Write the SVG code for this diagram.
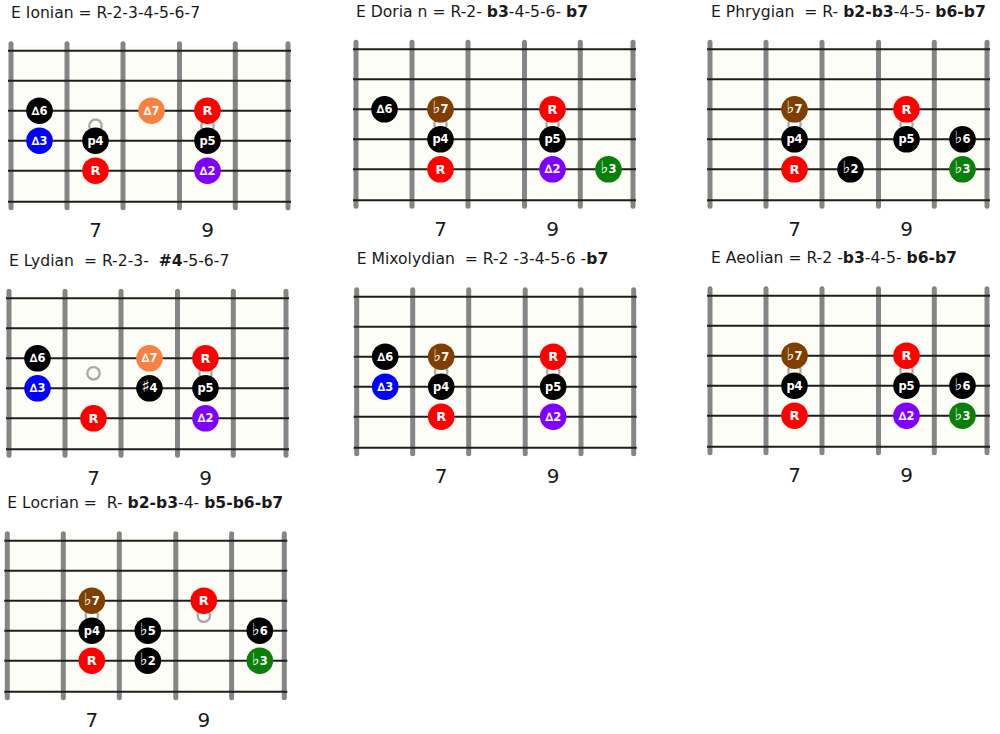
<svg xmlns="http://www.w3.org/2000/svg" xmlns:xlink="http://www.w3.org/1999/xlink" width="1000" height="734" viewBox="0 0 1000 734">
<style>
text{font-family:"DejaVu Sans","Verdana",sans-serif}
.title{font-size:15.6px;fill:#1a1a1a;white-space:pre}
.title tspan.b{font-weight:bold}
.fn{font-size:20px;fill:#1a1a1a;text-anchor:middle}
.fret{stroke:#858585;stroke-width:5;stroke-linecap:round}
.str{stroke:#1e1e1e;stroke-width:2}
.bg{fill:#fdfdf7}
.ring{fill:none;stroke:#aaaaaa;stroke-width:2.4}
.k{fill:#000}
.red{fill:#ff0000}
.blue{fill:#0000ff}
.org{fill:#f98040}
.pur{fill:#8000ff}
.brn{fill:#7f3f00}
.grn{fill:#0a800a}
.l{font-size:11.5px;font-weight:bold;fill:#fff;text-anchor:middle}
.l tspan.s{font-size:17px;font-weight:normal}
.lr{font-size:13px;font-weight:bold;fill:#fff;text-anchor:middle}
</style>
<defs>
<g id="board">
<rect class="bg" x="0" y="-5" width="277" height="160"/>
<line class="fret" x1="0" y1="-7" x2="0" y2="157"/>
<line class="fret" x1="56" y1="-7" x2="56" y2="157"/>
<line class="fret" x1="112" y1="-7" x2="112" y2="157"/>
<line class="fret" x1="168.5" y1="-7" x2="168.5" y2="157"/>
<line class="fret" x1="224.3" y1="-7" x2="224.3" y2="157"/>
<line class="fret" x1="277" y1="-7" x2="277" y2="157"/>
<line class="str" x1="-3" y1="0" x2="280" y2="0"/>
<line class="str" x1="-3" y1="30" x2="280" y2="30"/>
<line class="str" x1="-3" y1="60" x2="280" y2="60"/>
<line class="str" x1="-3" y1="90" x2="280" y2="90"/>
<line class="str" x1="-3" y1="120" x2="280" y2="120"/>
<line class="str" x1="-3" y1="151" x2="280" y2="151"/>
<text class="fn" x="84.5" y="186.5">7</text>
<text class="fn" x="196.5" y="186.5">9</text>
<circle class="ring" cx="84.5" cy="75" r="6.2"/>
<circle class="ring" cx="196.5" cy="75" r="6.2"/>
</g>
</defs>
<rect width="1000" height="734" fill="#fff"/>

<g id="ionian" transform="translate(11,50.7)">
<text class="title" x="0" y="-32.3">E Ionian = R-2-3-4-5-6-7</text>
<use xlink:href="#board" href="#board"/>
<circle class="k" cx="28.5" cy="60" r="13.3"/><text class="l" x="28.5" y="64">∆6</text>
<circle class="blue" cx="28.5" cy="90" r="13.3"/><text class="l" x="28.5" y="94">∆3</text>
<circle class="k" cx="84.5" cy="90" r="13.3"/><text class="l" x="84.5" y="94">p4</text>
<circle class="red" cx="84.5" cy="120" r="13.3"/><text class="lr" x="84.5" y="124.5">R</text>
<circle class="org" cx="140.5" cy="60" r="13.3"/><text class="l" x="140.5" y="64">∆7</text>
<circle class="red" cx="196.5" cy="60" r="13.3"/><text class="lr" x="196.5" y="64.5">R</text>
<circle class="k" cx="196.5" cy="90" r="13.3"/><text class="l" x="196.5" y="94">p5</text>
<circle class="pur" cx="196.5" cy="120" r="13.3"/><text class="l" x="196.5" y="124">∆2</text>
</g>

<g id="dorian" transform="translate(356,49.3)">
<text class="title" x="0" y="-32.3">E Doria n = R-2- <tspan class="b">b3</tspan>-4-5-6- <tspan class="b">b7</tspan></text>
<use xlink:href="#board" href="#board"/>
<circle class="k" cx="28.5" cy="60" r="13.3"/><text class="l" x="28.5" y="64">∆6</text>
<circle class="brn" cx="84.5" cy="60" r="13.3"/><text class="l" x="84.5" y="64"><tspan class="s">♭</tspan>7</text>
<circle class="k" cx="84.5" cy="90" r="13.3"/><text class="l" x="84.5" y="94">p4</text>
<circle class="red" cx="84.5" cy="120" r="13.3"/><text class="lr" x="84.5" y="124.5">R</text>
<circle class="red" cx="196.5" cy="60" r="13.3"/><text class="lr" x="196.5" y="64.5">R</text>
<circle class="k" cx="196.5" cy="90" r="13.3"/><text class="l" x="196.5" y="94">p5</text>
<circle class="pur" cx="196.5" cy="120" r="13.3"/><text class="l" x="196.5" y="124">∆2</text>
<circle class="grn" cx="252.5" cy="120" r="13.3"/><text class="l" x="252.5" y="124"><tspan class="s">♭</tspan>3</text>
</g>

<g id="phrygian" transform="translate(710,49.3)">
<text class="title" x="1" y="-32.3">E Phrygian  = R- <tspan class="b">b2-b3</tspan>-4-5- <tspan class="b">b6-b7</tspan></text>
<use xlink:href="#board" href="#board"/>
<circle class="brn" cx="84.5" cy="60" r="13.3"/><text class="l" x="84.5" y="64"><tspan class="s">♭</tspan>7</text>
<circle class="k" cx="84.5" cy="90" r="13.3"/><text class="l" x="84.5" y="94">p4</text>
<circle class="red" cx="84.5" cy="120" r="13.3"/><text class="lr" x="84.5" y="124.5">R</text>
<circle class="k" cx="140.5" cy="120" r="13.3"/><text class="l" x="140.5" y="124"><tspan class="s">♭</tspan>2</text>
<circle class="red" cx="196.5" cy="60" r="13.3"/><text class="lr" x="196.5" y="64.5">R</text>
<circle class="k" cx="196.5" cy="90" r="13.3"/><text class="l" x="196.5" y="94">p5</text>
<circle class="k" cx="252.5" cy="90" r="13.3"/><text class="l" x="252.5" y="94"><tspan class="s">♭</tspan>6</text>
<circle class="grn" cx="252.5" cy="120" r="13.3"/><text class="l" x="252.5" y="124"><tspan class="s">♭</tspan>3</text>
</g>

<g id="lydian" transform="translate(9,298.3)">
<text class="title" x="0" y="-32.3">E Lydian  = R-2-3-  <tspan class="b">#4</tspan>-5-6-7</text>
<use xlink:href="#board" href="#board"/>
<circle class="k" cx="28.5" cy="60" r="13.3"/><text class="l" x="28.5" y="64">∆6</text>
<circle class="blue" cx="28.5" cy="90" r="13.3"/><text class="l" x="28.5" y="94">∆3</text>
<circle class="red" cx="84.5" cy="120" r="13.3"/><text class="lr" x="84.5" y="124.5">R</text>
<circle class="org" cx="140.5" cy="60" r="13.3"/><text class="l" x="140.5" y="64">∆7</text>
<circle class="k" cx="140.5" cy="90" r="13.3"/><text class="l" x="140.5" y="94"><tspan class="s">♯</tspan>4</text>
<circle class="red" cx="196.5" cy="60" r="13.3"/><text class="lr" x="196.5" y="64.5">R</text>
<circle class="k" cx="196.5" cy="90" r="13.3"/><text class="l" x="196.5" y="94">p5</text>
<circle class="pur" cx="196.5" cy="120" r="13.3"/><text class="l" x="196.5" y="124">∆2</text>
</g>

<g id="mixolydian" transform="translate(356.7,296.7)">
<text class="title" x="0" y="-32.3">E Mixolydian  = R-2 -3-4-5-6 -<tspan class="b">b7</tspan></text>
<use xlink:href="#board" href="#board"/>
<circle class="k" cx="28.5" cy="60" r="13.3"/><text class="l" x="28.5" y="64">∆6</text>
<circle class="blue" cx="28.5" cy="90" r="13.3"/><text class="l" x="28.5" y="94">∆3</text>
<circle class="brn" cx="84.5" cy="60" r="13.3"/><text class="l" x="84.5" y="64"><tspan class="s">♭</tspan>7</text>
<circle class="k" cx="84.5" cy="90" r="13.3"/><text class="l" x="84.5" y="94">p4</text>
<circle class="red" cx="84.5" cy="120" r="13.3"/><text class="lr" x="84.5" y="124.5">R</text>
<circle class="red" cx="196.5" cy="60" r="13.3"/><text class="lr" x="196.5" y="64.5">R</text>
<circle class="k" cx="196.5" cy="90" r="13.3"/><text class="l" x="196.5" y="94">p5</text>
<circle class="pur" cx="196.5" cy="120" r="13.3"/><text class="l" x="196.5" y="124">∆2</text>
</g>

<g id="aeolian" transform="translate(710,295.7)">
<text class="title" x="1" y="-32.3">E Aeolian = R-2 -<tspan class="b">b3</tspan>-4-5- <tspan class="b">b6-b7</tspan></text>
<use xlink:href="#board" href="#board"/>
<circle class="brn" cx="84.5" cy="60" r="13.3"/><text class="l" x="84.5" y="64"><tspan class="s">♭</tspan>7</text>
<circle class="k" cx="84.5" cy="90" r="13.3"/><text class="l" x="84.5" y="94">p4</text>
<circle class="red" cx="84.5" cy="120" r="13.3"/><text class="lr" x="84.5" y="124.5">R</text>
<circle class="red" cx="196.5" cy="60" r="13.3"/><text class="lr" x="196.5" y="64.5">R</text>
<circle class="k" cx="196.5" cy="90" r="13.3"/><text class="l" x="196.5" y="94">p5</text>
<circle class="pur" cx="196.5" cy="120" r="13.3"/><text class="l" x="196.5" y="124">∆2</text>
<circle class="k" cx="252.5" cy="90" r="13.3"/><text class="l" x="252.5" y="94"><tspan class="s">♭</tspan>6</text>
<circle class="grn" cx="252.5" cy="120" r="13.3"/><text class="l" x="252.5" y="124"><tspan class="s">♭</tspan>3</text>
</g>

<g id="locrian" transform="translate(7.3,540.7)">
<text class="title" x="0" y="-32.3">E Locrian =  R- <tspan class="b">b2-b3</tspan>-4- <tspan class="b">b5-b6-b7</tspan></text>
<use xlink:href="#board" href="#board"/>
<circle class="brn" cx="84.5" cy="60" r="13.3"/><text class="l" x="84.5" y="64"><tspan class="s">♭</tspan>7</text>
<circle class="k" cx="84.5" cy="90" r="13.3"/><text class="l" x="84.5" y="94">p4</text>
<circle class="red" cx="84.5" cy="120" r="13.3"/><text class="lr" x="84.5" y="124.5">R</text>
<circle class="k" cx="140.5" cy="90" r="13.3"/><text class="l" x="140.5" y="94"><tspan class="s">♭</tspan>5</text>
<circle class="k" cx="140.5" cy="120" r="13.3"/><text class="l" x="140.5" y="124"><tspan class="s">♭</tspan>2</text>
<circle class="red" cx="196.5" cy="60" r="13.3"/><text class="lr" x="196.5" y="64.5">R</text>
<circle class="k" cx="252.5" cy="90" r="13.3"/><text class="l" x="252.5" y="94"><tspan class="s">♭</tspan>6</text>
<circle class="grn" cx="252.5" cy="120" r="13.3"/><text class="l" x="252.5" y="124"><tspan class="s">♭</tspan>3</text>
</g>
</svg>
